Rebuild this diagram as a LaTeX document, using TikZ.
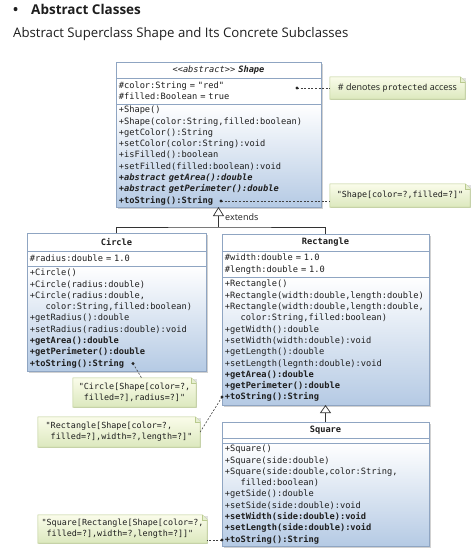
\documentclass[tikz,border=0pt]{standalone}
\usepackage{fontspec}
\setmainfont{Open Sans}
\setmonofont{DejaVu Sans Mono}[BoldFont={DejaVu Sans Mono Bold},ItalicFont={DejaVu Sans Mono Oblique},BoldItalicFont={DejaVu Sans Mono Bold Oblique}]
\usetikzlibrary{arrows.meta,backgrounds}
\definecolor{clsborder}{HTML}{8FA5C2}
\definecolor{clsblue}{HTML}{B5CAE4}
\definecolor{notetop}{HTML}{FAFCEA}
\definecolor{notebot}{HTML}{DCE8BE}
\definecolor{noteborder}{HTML}{B9CA8E}
\definecolor{txt}{HTML}{1E1E1E}
\begin{document}
\begin{tikzpicture}[x=1pt,y=-1pt,
  every node/.style={text=txt},
  mono/.style={font=\fontsize{8.7}{11.3}\selectfont\ttfamily},
  notemono/.style={font=\fontsize{8.4}{11}\selectfont\ttfamily},
  comp/.style={draw=clsborder, line width=0.7pt, fill=white, anchor=north west,
    inner xsep=2.8pt, inner ysep=0pt, outer sep=0pt, align=left, mono},
  hdr/.style={comp, align=center},
  meth/.style={comp, top color=white, bottom color=clsblue},
  note/.style={notemono, align=left, inner sep=3pt, anchor=center},
  conn/.style={dash pattern=on 2pt off 1.6pt, line width=0.6pt, black!75},
  inh/.style={line width=0.7pt, black!80},
  dotmark/.style={fill=black!85}
]
\useasboundingbox (0,0) rectangle (474,552);

% titles
\node[anchor=base west, inner sep=0pt, font=\fontsize{13.5}{16}\selectfont\bfseries] (bul) at (13,14) {\textbullet};
\node[anchor=base west, inner sep=0pt, font=\fontsize{13.5}{16}\selectfont\bfseries] (title) at (31,14) {Abstract Classes};
\node[anchor=base west, inner sep=0pt, font=\fontsize{13.2}{15}\selectfont] (sub) at (13,37) {Abstract Superclass Shape and Its Concrete Subclasses};

% Shape
\node[hdr, text width=199.4pt, minimum height=16pt] (shH) at (116,62) {\textit{<<abstract>>} \textbf{\textit{Shape}}};
\node[comp, text width=199.4pt, minimum height=26pt] (shA) at (shH.south west) {\#color:String = "red"\\\#filled:Boolean = true};
\node[meth, text width=199.4pt, minimum height=103pt] (shM) at (shA.south west) {+Shape()\\
+Shape(color:String,filled:boolean)\\
+getColor():String\\
+setColor(color:String):void\\
+isFilled():boolean\\
+setFilled(filled:boolean):void\\
\textbf{\textit{+abstract getArea():double}}\\
\textbf{\textit{+abstract getPerimeter():double}}\\
\textbf{+toString():String}};

% Circle
\node[hdr, text width=173.4pt, minimum height=18pt] (ciH) at (27,233) {\textbf{Circle}};
\node[comp, text width=173.4pt, minimum height=15pt] (ciA) at (ciH.south west) {\#radius:double = 1.0};
\node[meth, text width=173.4pt, minimum height=105pt] (ciM) at (ciA.south west) {+Circle()\\
+Circle(radius:double)\\
+Circle(radius:double,\\
\hphantom{+++}color:String,filled:boolean)\\
+getRadius():double\\
+setRadius(radius:double):void\\
\textbf{+getArea():double}\\
\textbf{+getPerimeter():double}\\
\textbf{+toString():String}};

% Rectangle
\node[hdr, text width=201.4pt, minimum height=17pt] (reH) at (222,234) {\textbf{Rectangle}};
\node[comp, text width=201.4pt, minimum height=26pt] (reA) at (reH.south west) {\#width:double = 1.0\\\#length:double = 1.0};
\node[meth, text width=201.4pt, minimum height=128pt] (reM) at (reA.south west) {+Rectangle()\\
+Rectangle(width:double,length:double)\\
+Rectangle(width:double,length:double,\\
\hphantom{+++}color:String,filled:boolean)\\
+getWidth():double\\
+setWidth(width:double):void\\
+getLength():double\\
+setLength(legnth:double):void\\
\textbf{+getArea():double}\\
\textbf{+getPerimeter():double}\\
\textbf{+toString():String}};

% Square
\node[hdr, text width=201.4pt, minimum height=16pt] (sqH) at (222,422) {\textbf{Square}};
\node[comp, text width=201.4pt, minimum height=5pt] (sqA) at (sqH.south west) {};
\node[meth, text width=201.4pt, minimum height=103pt] (sqM) at (sqA.south west) {+Square()\\
+Square(side:double)\\
+Square(side:double,color:String,\\
\hphantom{+++}filled:boolean)\\
+getSide():double\\
+setSide(side:double):void\\
\textbf{+setWidth(side:double):void}\\
\textbf{+setLength(side:double):void}\\
\textbf{+toString():String}};

% notes
\node[note, minimum width=135pt, minimum height=22pt, font=\fontsize{9}{11}\selectfont] (nprot) at (397.5,88) {\# denotes {\ttfamily\fontsize{8.3}{11}\selectfont protected} access};
\node[note, minimum width=140pt, minimum height=23pt] (nshape) at (400,195.5) {"Shape[color=?,filled=?]"};
\node[note, minimum width=123pt, minimum height=29pt] (ncirc) at (134.5,392.5) {"Circle[Shape[color=?,\\\hphantom{x}filled=?],radius=?]"};
\node[note, minimum width=162pt, minimum height=30pt] (nrect) at (119,432) {"Rectangle[Shape[color=?,\\\hphantom{x}filled=?],width=?,length=?]"};
\node[note, minimum width=169pt, minimum height=28pt] (nsq) at (122.5,529) {"Square[Rectangle[Shape[color=?,\\\hphantom{x}filled=?],width=?,length=?]]"};

% extends label
\node[anchor=west, inner sep=0pt, font=\fontsize{9}{11}\selectfont] (ext) at (225,217) {extends};

% backgrounds: shadows and note shapes
\begin{scope}[on background layer]
  \foreach \h/\m in {shH/shM,ciH/ciM,reH/reM,sqH/sqM}{
    \fill[black!18] ([xshift=1.5pt,yshift=-1.5pt]\h.north west) rectangle ([xshift=1.5pt,yshift=-1.5pt]\m.south east);
  }
  \foreach \n in {nprot,nshape,ncirc,nrect,nsq}{
    \fill[black!12] ([xshift=1.2pt,yshift=-1.2pt]\n.south west) rectangle ([xshift=1.2pt,yshift=-1.2pt]\n.north east);
    \shade[top color=notetop,bottom color=notebot,draw=noteborder,line width=0.6pt]
      (\n.south west) -- (\n.north west) -- ([xshift=-5pt]\n.north east)
      -- ([yshift=-5pt]\n.north east) -- (\n.south east) -- cycle;
    \draw[noteborder, line width=0.6pt, fill=notebot!70!white]
      ([xshift=-5pt]\n.north east) -- ([xshift=-5pt,yshift=-5pt]\n.north east) -- ([yshift=-5pt]\n.north east);
  }
\end{scope}

% inheritance
\coordinate (j1) at (218.5,227);
\draw[inh] (ciH.north) |- (j1) -| (reH.north);
\draw[inh, -{Triangle[open, width=11pt, length=9pt, line width=0.7pt]}] (j1) -- (shM.south);
\draw[inh, -{Triangle[open, width=11pt, length=8pt, line width=0.7pt]}] (sqH.north) -- (reM.south);

% dots and connectors
\coordinate (dprot) at (297,88);
\coordinate (dshape) at (221,201);
\coordinate (dcirc) at (133,363.5);
\coordinate (drect) at (222,397);
\coordinate (dsq) at (222,540);
\draw[conn] (dprot) -- (nprot.west);
\draw[conn] (dshape) -- (nshape.west |- dshape);
\draw[conn] (dcirc) -- ([xshift=7pt]ncirc.north);
\draw[conn] (drect) -- (nrect.east);
\draw[conn] (dsq) -- (nsq.east |- dsq);
\foreach \d in {dprot,dshape,dcirc,drect,dsq}{
  \fill[dotmark] (\d) circle (1.6pt);
}
\end{tikzpicture}
\end{document}
